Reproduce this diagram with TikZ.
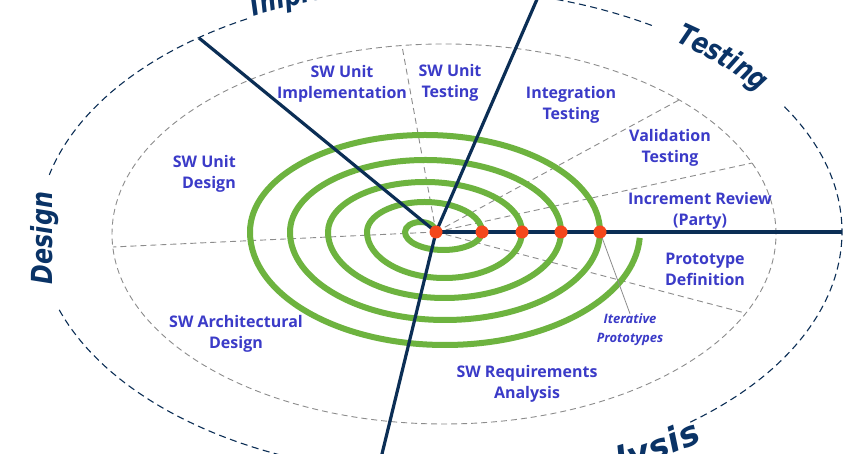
\documentclass[tikz,border=0pt]{standalone}
\usepackage{fontspec}
\setmainfont{Open Sans}
\newfontfamily\bigfam{DejaVu Sans}[FakeStretch=0.82]
\newfontfamily\bigfamw{DejaVu Sans}
\usetikzlibrary{decorations.text}
\definecolor{navy}{HTML}{0B2E55}
\definecolor{navytxt}{HTML}{0A3366}
\definecolor{spgreen}{HTML}{6DB33F}
\definecolor{dotred}{HTML}{F4471C}
\definecolor{labblue}{HTML}{3B3BC8}
\definecolor{dgray}{HTML}{8C8C8C}
\newcommand\outfont{\bigfam\bfseries\itshape\fontsize{29pt}{32pt}\selectfont}
\newcommand\anfont{\bigfamw\bfseries\itshape\fontsize{34pt}{36pt}\selectfont}
\begin{document}
\begin{tikzpicture}[x=1pt,y=1pt,
 outerdash/.style={draw=navy, line width=1.1pt, dash pattern=on 7pt off 4.5pt},
 innerdash/.style={draw=dgray, line width=0.9pt, dash pattern=on 6pt off 4pt},
 axisline/.style={draw=navy, line width=3.2pt},
 spiral/.style={draw=spgreen, line width=6pt},
 rdot/.style={circle, fill=dotred, inner sep=0pt, minimum size=13pt},
 lab/.style={text=labblue, font=\bfseries\fontsize{16pt}{21pt}\selectfont, align=center, inner sep=0pt},
 itlab/.style={text=labblue, font=\bfseries\itshape\fontsize{13pt}{19pt}\selectfont, align=center, inner sep=0pt},
 bigtext/.style={text=navytxt, font=\outfont, inner sep=0pt}]
\useasboundingbox (0,0) rectangle (866,454);
\fill[white] (0,0) rectangle (866,454);

% centres
\coordinate (E) at (440,222);
\coordinate (I) at (444,220);
\coordinate (O) at (436,222);

% outer dashed ellipse (with gaps for the phase titles)
\draw[outerdash] (E) ++(58.2:402 and 243) arc[start angle=58.2, end angle=86, x radius=402, y radius=243];
\draw[outerdash] (E) ++(118.7:402 and 243) arc[start angle=118.7, end angle=166.4, x radius=402, y radius=243];
\draw[outerdash] (E) ++(198.7:402 and 243) arc[start angle=198.7, end angle=255, x radius=402, y radius=243];
\draw[outerdash] (E) ++(308.5:402 and 243) arc[start angle=308.5, end angle=391.7, x radius=402, y radius=243];

% inner dashed ellipse
\draw[innerdash] (I) ellipse[x radius=332, y radius=190];

% radial dashed separators
\coordinate (g1) at (113,207);
\coordinate (g2) at (402,408);
\coordinate (g3) at (679,354);
\coordinate (g4) at (752,291);
\coordinate (g5) at (745,141);
\foreach \g in {g1,g2,g3,g4,g5} \draw[innerdash] (O) -- (\g);

% green spiral
\draw[spiral] (O)
 arc[start angle=0,end angle=180,x radius=15.5,y radius=10]
 arc[start angle=180,end angle=360,x radius=38.5,y radius=18]
 arc[start angle=0,end angle=180,x radius=57.5,y radius=30]
 arc[start angle=180,end angle=360,x radius=77.5,y radius=46]
 arc[start angle=0,end angle=180,x radius=97,y radius=50]
 arc[start angle=180,end angle=360,x radius=116.5,y radius=66]
 arc[start angle=0,end angle=180,x radius=135.5,y radius=72]
 arc[start angle=180,end angle=360,x radius=155,y radius=88]
 arc[start angle=0,end angle=180,x radius=175,y radius=97]
 arc[start angle=180,end angle=357,x radius=195,y radius=113];

% navy phase axes
\coordinate (aUL) at (199,416);
\coordinate (aT) at (538,457);
\coordinate (aB) at (377.6,-18);
\coordinate (aR) at (842,222);
\draw[axisline] (O) -- (aUL);
\draw[axisline] (O) -- (aT);
\draw[axisline] (O) -- (aB);
\draw[axisline] (O) -- (aR);

% labels
\node[lab] (uimp) at (342,370) {SW Unit\\Implementation};
\node[lab] (utest) at (450,371) {SW Unit\\Testing};
\node[lab] (itest) at (571,349) {Integration\\Testing};
\node[lab] (vtest) at (670,306) {Validation\\Testing};
\node[lab] (irev) at (700,243) {Increment Review\\(Party)};
\node[lab] (pdef) at (705,185) {Prototype\\Definition};
\node[itlab] (iter) at (630,124) {Iterative\\Prototypes};
\node[lab] (sra) at (527,70) {SW Requirements\\Analysis};
\node[lab] (sad) at (236,120) {SW Architectural\\Design};
\node[lab, align=right, anchor=east] (sud) at (236,280) {SW Unit\\Design};

% pointer to iterative prototypes
\coordinate (c4) at (600,222);
\draw[dgray, line width=0.8pt] (c4) -- (iter.north);

% red dots
\node[rdot] (d0) at (O) {};
\node[rdot] (d1) at (482,222) {};
\node[rdot] (d2) at (522,222) {};
\node[rdot] (d3) at (561,222) {};
\node[rdot] (d4) at (c4) {};

% phase titles
\path[decorate, decoration={text along path, text={|\outfont|Implementation}, text align=center, text color=navytxt, raise=0pt}]
 (E) ++(135:402 and 243) arc[start angle=135, end angle=71, x radius=402, y radius=243];
\path[decorate, decoration={text along path, text={|\outfont|Testing}, text align=center, text color=navytxt, raise=-6pt}]
 (E) ++(60:402 and 243) arc[start angle=60, end angle=29, x radius=402, y radius=243];
\path[decorate, decoration={text along path, text={|\anfont|Analysis}, text align=center, text color=navytxt, raise=-22pt}]
 (E) ++(277.5:402 and 243) arc[start angle=277.5, end angle=317.5, x radius=402, y radius=243];
\node[bigtext, rotate=90, anchor=base] (dsg) at (52,216) {Design};
\end{tikzpicture}
\end{document}
